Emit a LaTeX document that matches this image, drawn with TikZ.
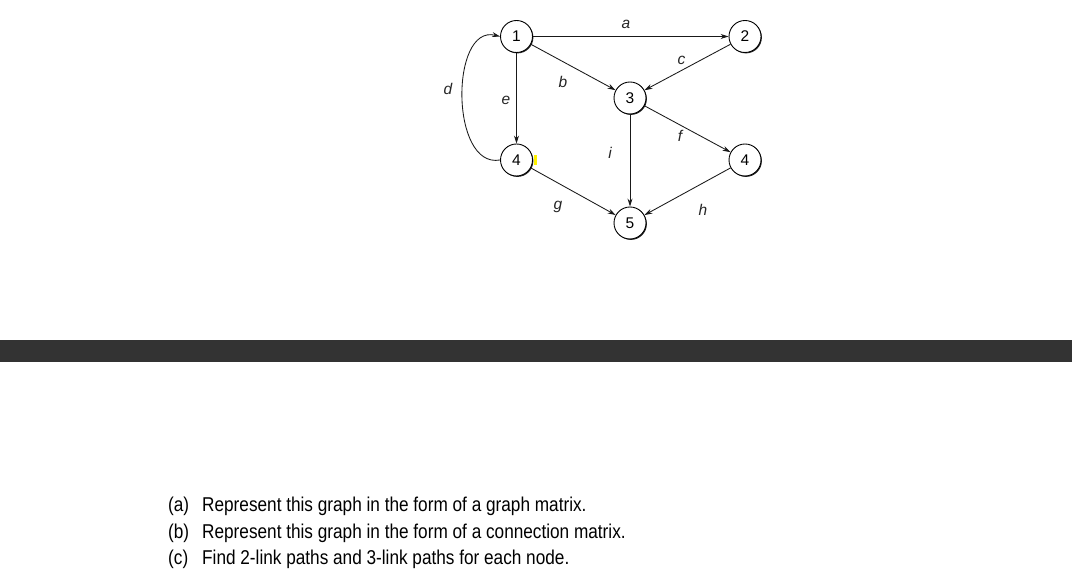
\documentclass[tikz,border=0pt]{standalone}
\usepackage{fontspec}
\setmainfont{Liberation Sans}
\newfontfamily\condfont[FakeStretch=0.86]{Liberation Sans}
\usetikzlibrary{arrows.meta,shadows}
\begin{document}
\begin{tikzpicture}[x=1pt,y=1pt,
  vert/.style={circle,draw=black,line width=0.9pt,fill=white,minimum size=32pt,inner sep=0pt,
    font=\fontsize{15.5}{15.5}\selectfont,
    drop shadow={shadow xshift=0.9pt,shadow yshift=-0.9pt,opacity=0.85,fill=black}},
  edge/.style={draw=black!90,line width=0.85pt,-{Stealth[length=8pt,width=5pt]}},
  lbl/.style={font=\fontsize{15.5}{15.5}\selectfont\itshape,text=black!85},
  qtext/.style={anchor=base west,inner sep=0pt,font=\condfont\fontsize{20}{20}\selectfont,text=black}]
\useasboundingbox (0,0) rectangle (1072,569);
\fill[white] (0,0) rectangle (1072,569);
% graph
\node[vert] (n1) at (516.5,532.5) {1};
\node[vert] (n2) at (745,532.5) {2};
\node[vert] (n3) at (630,471) {3};
\node[vert] (n4l) at (516.5,409) {4};
\node[vert] (n4r) at (745,409) {4};
\node[vert] (n5) at (630,346) {5};
\fill[yellow] (533.5,404) rectangle (537,414);
\draw[edge] (n1) -- (n2);
\draw[edge] (n1) -- (n3);
\draw[edge] (n2) -- (n3);
\draw[edge] (n1) -- (n4l);
\draw[edge] (n3) -- (n4r);
\draw[edge] (n3) -- (n5);
\draw[edge] (n4l) -- (n5);
\draw[edge] (n4r) -- (n5);
\draw[edge] (n4l.west) .. controls (450,400) and (450,545) .. (n1.west);
\node[lbl] (la) at (626,545) {a};
\node[lbl] (lc) at (681.5,509) {c};
\node[lbl] (lb) at (563,487) {b};
\node[lbl] (ld) at (448,480) {d};
\node[lbl] (le) at (506,469) {e};
\node[lbl] (lf) at (680,433) {f};
\node[lbl] (li) at (610,416) {i};
\node[lbl] (lg) at (558,362) {g};
\node[lbl] (lh) at (703,359) {h};
% dark bar
\fill[black!80] (0,207) rectangle (1072,229);
% questions
\node[qtext] (qa) at (168,57) {(a)};
\node[qtext] (ta) at (202,57) {Represent this graph in the form of a graph matrix.};
\node[qtext] (qb) at (168,30.5) {(b)};
\node[qtext] (tb) at (202,30.5) {Represent this graph in the form of a connection matrix.};
\node[qtext] (qc) at (168,4) {(c)};
\node[qtext] (tc) at (202,4) {Find 2-link paths and 3-link paths for each node.};
\end{tikzpicture}
\end{document}
